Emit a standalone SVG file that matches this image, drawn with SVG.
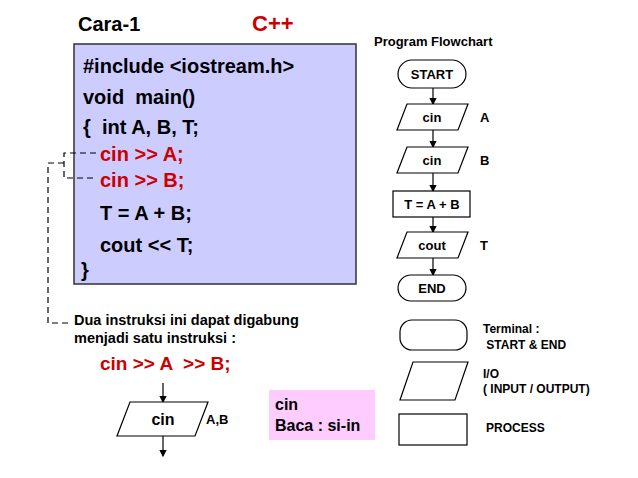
<svg xmlns="http://www.w3.org/2000/svg" width="638" height="478" viewBox="0 0 638 478" xml:space="preserve">
<style>
text{font-family:"Liberation Sans",Arial,sans-serif;font-weight:bold;white-space:pre}
.code{font-size:20px;fill:#000}
.red{fill:#cc0000}
.fc{fill:#fff;stroke:#000;stroke-width:1.2}
.ft{font-size:13px;text-anchor:middle}
.lb{font-size:13px}
.dash{fill:none;stroke:#000;stroke-width:1.2;stroke-dasharray:6,4}
.ln{fill:none;stroke:#000;stroke-width:1.2;marker-end:url(#ar)}
</style>
<defs><marker id="ar" markerWidth="6" markerHeight="6" refX="5" refY="3" orient="auto"><path d="M0,0L6,3L0,6z" fill="#000"/></marker></defs>
<rect width="638" height="478" fill="#fff"/>
<text x="78" y="31" style="font-size:20px">Cara-1</text>
<text x="252" y="31" class="red" style="font-size:22px">C++</text>
<text x="374" y="46" style="font-size:13px">Program Flowchart</text>
<g id="code">
<rect x="74" y="44" width="282" height="240" fill="#ccccff" stroke="#333" stroke-width="1.5"/>
<text x="83" y="73" class="code">#include &lt;iostream.h&gt;</text>
<text x="83" y="104" class="code">void  main()</text>
<text x="83" y="134" class="code">{  int A, B, T;</text>
<text x="100" y="161" class="code red">cin &gt;&gt; A;</text>
<text x="100" y="187" class="code red">cin &gt;&gt; B;</text>
<text x="100" y="220" class="code">T = A + B;</text>
<text x="100" y="252" class="code">cout &lt;&lt; T;</text>
<text x="81" y="277" class="code">}</text>
</g>
<g id="connectors">
<path class="dash" d="M96,153H64V178H96M64,163H48V323H70"/>
<path class="ln" d="M433,88V104"/>
<path class="ln" d="M433,130V147"/>
<path class="ln" d="M433,173V191"/>
<path class="ln" d="M433,217V232"/>
<path class="ln" d="M433,258V275"/>
<path class="ln" d="M163,383V402"/>
<path class="ln" d="M163,436V456"/>
</g>
<g id="start"><rect x="398" y="60" width="68" height="28" rx="14" class="fc"/><text x="432" y="79" class="ft">START</text></g>
<g id="cinA"><polygon points="407,104 468,104 458,130 397,130" class="fc"/><text x="432" y="122" class="ft">cin</text><text x="480" y="122" class="lb">A</text></g>
<g id="cinB"><polygon points="407,147 468,147 458,173 397,173" class="fc"/><text x="432" y="165" class="ft">cin</text><text x="480" y="165" class="lb">B</text></g>
<g id="proc"><rect x="393" y="191" width="77" height="26" class="fc"/><text x="432" y="209" class="ft">T = A + B</text></g>
<g id="cout"><polygon points="407,232 468,232 458,258 397,258" class="fc"/><text x="432" y="250" class="ft">cout</text><text x="480" y="250" class="lb">T</text></g>
<g id="end"><rect x="398" y="275" width="68" height="26" rx="13" class="fc"/><text x="432" y="293" class="ft">END</text></g>
<text x="74" y="325" style="font-size:14.5px">Dua instruksi ini dapat digabung</text>
<text x="74" y="343" style="font-size:14.5px">menjadi satu instruksi :</text>
<text x="100" y="370" class="red" style="font-size:19px">cin &gt;&gt; A  &gt;&gt; B;</text>
<g id="cinAB"><polygon points="130,402 208,402 195,436 117,436" class="fc"/><text x="163" y="425" class="ft" style="font-size:16px">cin</text><text x="206" y="424" class="lb">A,B</text></g>
<g id="note"><rect x="269" y="390" width="106" height="50" fill="#ffccff"/><text x="275" y="410" style="font-size:16px">cin</text><text x="275" y="431" style="font-size:16px">Baca : si-in</text></g>
<g id="lterm"><rect x="400" y="320" width="67" height="30" rx="12" class="fc"/><text x="483" y="333" style="font-size:12px">Terminal :</text><text x="483" y="349" style="font-size:12px"> START &amp; END</text></g>
<g id="lio"><polygon points="413,362 468,362 455,400 400,400" class="fc"/><text x="483" y="378" style="font-size:12px">I/O</text><text x="483" y="393" style="font-size:12px">( INPUT / OUTPUT)</text></g>
<g id="lproc"><rect x="399" y="414" width="68" height="31" class="fc"/><text x="486" y="432" style="font-size:12px">PROCESS</text></g>
</svg>
